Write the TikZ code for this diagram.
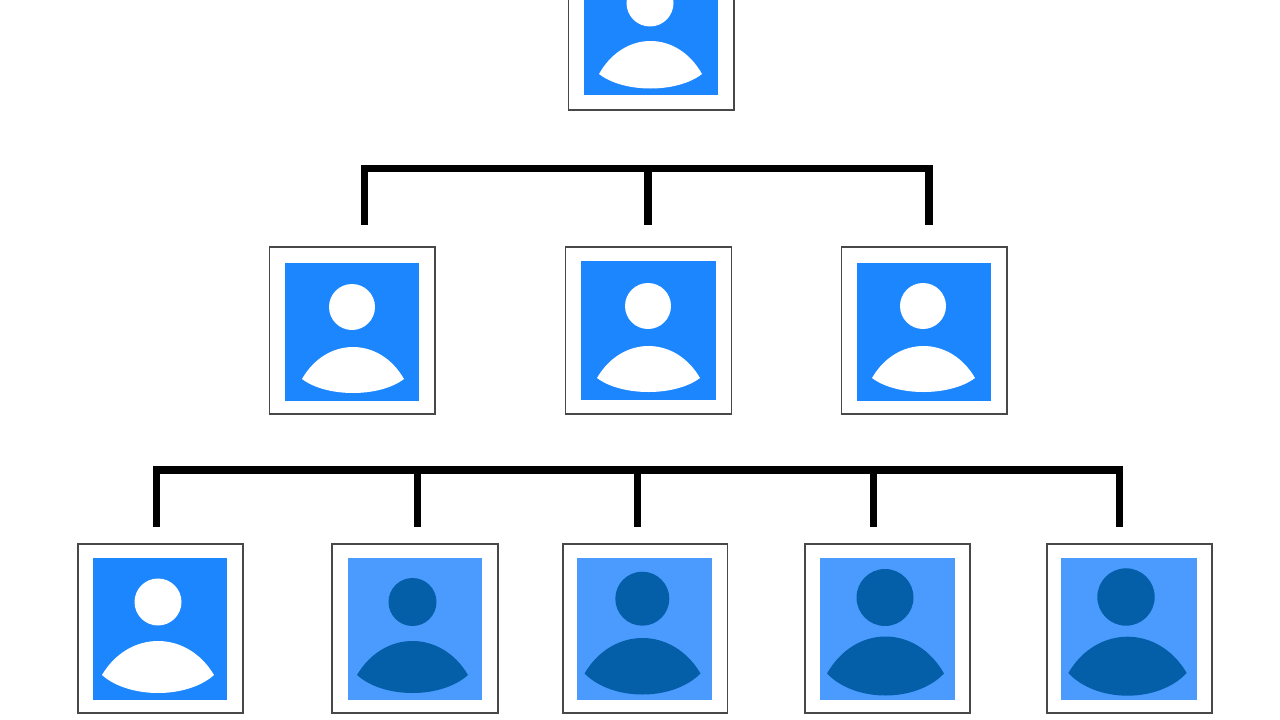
\documentclass[tikz,border=0pt]{standalone}
\definecolor{brightblue}{HTML}{1C86FF}
\definecolor{softblue}{HTML}{4A9BFD}
\definecolor{deepblue}{HTML}{045EA8}
\definecolor{frame}{HTML}{484848}
\tikzset{
  x=1pt,y=-1pt,
  cardframe/.style={draw=frame,line width=1.5pt,fill=white,rectangle,inner sep=0pt,outer sep=0pt,anchor=north west},
  bus/.style={draw=black,line width=7.4pt,line cap=butt,line join=miter},
}
% name, outer x0 y0 x1 y1, inner x0 y0 x1 y1, cx cy r, body L R tip top bottom, bg, fg
\newcommand{\personcard}[5]{%
  \foreach \pnm/\oxa/\oya/\oxb/\oyb in {#1}{%
    \foreach \ixa/\iya/\ixb/\iyb in {#2}{%
      \foreach \pcx/\pcy/\prr in {#3}{%
        \foreach \pbl/\pbr/\pbt/\pbu/\pbd in {#4}{%
          \foreach \pbg/\pfg in {#5}{%
            \pgfmathsetmacro{\pwid}{\oxb-\oxa}\pgfmathsetmacro{\phei}{\oyb-\oya}
            \node[cardframe,minimum width=\pwid pt,minimum height=\phei pt] (\pnm) at (\oxa,\oya) {};
            \fill[\pbg] (\ixa,\iya) rectangle (\ixb,\iyb);
            \fill[\pfg] (\pcx,\pcy) circle[radius=\prr];
            \pgfmathsetmacro{\pcw}{0.24*(\pbr-\pbl)}
            \pgfmathsetmacro{\pca}{\pbl+\pcw}\pgfmathsetmacro{\pcb}{\pbr-\pcw}
            \pgfmathsetmacro{\pcu}{\pbt+(\pbu-\pbt)*4/3}\pgfmathsetmacro{\pcd}{\pbt+(\pbd-\pbt)*4/3}
            \fill[\pfg] (\pbl,\pbt) .. controls (\pca,\pcu) and (\pcb,\pcu) .. (\pbr,\pbt)
              .. controls (\pcb,\pcd) and (\pca,\pcd) .. (\pbl,\pbt) -- cycle;
          }}}}}%
}
\begin{document}
\begin{tikzpicture}
\clip (0,0) rectangle (1280,720);
\fill[white] (0,0) rectangle (1280,720);

\personcard{top/568.5/-56/734/110}{584/-41/718/95}{650/3/23.5}{599/702/74/41/88.5}{brightblue/white}
\personcard{midA/269.5/247/435/414}{285/263/419/400.5}{352/307/23}{302/404/379/347/393}{brightblue/white}
\personcard{midB/565.5/247/731.5/414}{581/261/716/400}{648/306/23}{597/700/378/346/392}{brightblue/white}
\personcard{midC/841.5/247/1007/414}{857/263/991/400.5}{923/306/23}{872/975/378/346/392}{brightblue/white}
\personcard{lowA/78/544/243/713}{93/557.5/227/699.5}{158/602/23.5}{102/214/675/641/693}{brightblue/white}
\personcard{lowB/332/544/498/713}{348/557.5/482/699.5}{412.5/602/24}{357/468/675/641/693}{softblue/deepblue}
\personcard{lowC/563/544/727.5/713}{577/557.5/712/699.5}{642.3/598.7/27}{584.5/700.5/673.5/638/694.5}{softblue/deepblue}
\personcard{lowD/805/544/970/713}{820/557.5/955/699.5}{885/597.5/28.5}{827/944/673.5/636.5/695.5}{softblue/deepblue}
\personcard{lowE/1047/544/1212/713}{1061.3/557.5/1196.7/699.5}{1126/597/28.7}{1068.3/1186.7/673/636.7/695.7}{softblue/deepblue}

% upper connector
\coordinate (ua) at (364.7,225);
\coordinate (ub) at (648,225);
\coordinate (uc) at (929,225);
\coordinate (ubus) at (648,168.5);
\draw[bus] (ua) |- (ubus) -| (uc);
\draw[bus] (ubus) -- (ub);

% lower connector
\coordinate (la) at (156.5,527);
\coordinate (lb) at (417.5,527);
\coordinate (lc) at (637.5,527);
\coordinate (ld) at (873.5,527);
\coordinate (le) at (1119.5,527);
\coordinate (lbus) at (637.5,470);
\draw[bus] (la) |- (lbus) -| (le);
\draw[bus] (lb) |- (lbus);
\draw[bus] (lbus) -- (lc);
\draw[bus] (ld) |- (lbus);
\end{tikzpicture}
\end{document}
